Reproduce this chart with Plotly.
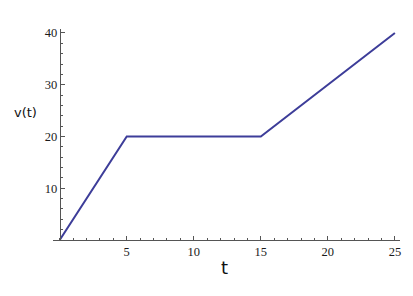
import plotly.graph_objects as go

t_vals = [0, 5, 15, 25]
v_vals = [0, 20, 20, 40]
x_ticks = [5, 10, 15, 20, 25]
y_ticks = [10, 20, 30, 40]

fig = go.Figure()
fig.add_trace(go.Scatter(x=t_vals, y=v_vals, mode="lines",
                         line=dict(color="#3D3D99", width=2), showlegend=False))

axis_color = "#555555"
tick_font = dict(family="'Liberation Serif', 'Times New Roman', serif", size=12.5, color="#1a1a1a")

W, H = 413, 296
l, r, t, b = 53, 13, 29, 56
fig.update_layout(
    width=W, height=H,
    margin=dict(l=l, r=r, t=t, b=b),
    paper_bgcolor="white", plot_bgcolor="white",
    xaxis=dict(range=[-0.5, 25.38], showgrid=False, zeroline=False,
               showline=True, linecolor=axis_color, linewidth=1,
               tickvals=x_ticks, ticks="inside", ticklen=4, tickcolor=axis_color,
               tickfont=tick_font,
               minor=dict(dtick=1, tick0=0, ticks="inside", ticklen=2,
                          tickcolor=axis_color, showgrid=False)),
    yaxis=dict(range=[0, 40.77], showgrid=False, zeroline=False,
               showline=True, linecolor=axis_color, linewidth=1,
               anchor="free", position=(59.7 - l) / (W - l - r),
               tickvals=y_ticks, ticks="inside", ticklen=4, tickcolor=axis_color,
               tickfont=tick_font,
               minor=dict(dtick=2, tick0=0, ticks="inside", ticklen=2,
                          tickcolor=axis_color, showgrid=False)),
    annotations=[
        dict(text="t", x=224, y=H - 267, xref="paper", yref="paper",
             showarrow=False, font=dict(family="'DejaVu Sans'", size=18, color="#111111"),
             xanchor="center", yanchor="middle"),
        dict(text="v(t)", x=25.5, y=H - 112.5, xref="paper", yref="paper",
             showarrow=False, font=dict(family="'DejaVu Sans'", size=13, color="#111111"),
             xanchor="center", yanchor="middle"),
    ],
)
pw, ph = W - l - r, H - t - b
for a in fig.layout.annotations:
    a.x = (a.x - l) / pw
    a.y = (a.y - b) / ph

fig.write_html("out.html")
